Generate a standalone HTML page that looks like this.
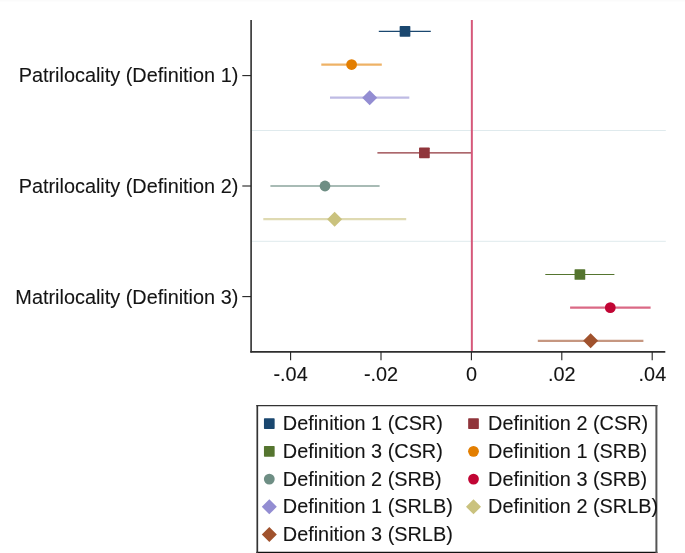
<!DOCTYPE html>
<html><head><meta charset="utf-8"><title>coefplot</title>
<style>
html,body{margin:0;padding:0;background:#fff;}
svg{display:block;}
text{font-family:"Liberation Sans",Arial,sans-serif;fill:#141414;stroke:#141414;stroke-width:0.1px;}
</style></head><body>
<svg width="685" height="553" viewBox="0 0 685 553">
<rect width="685" height="553" fill="#fff"/>
<rect width="685" height="1.5" fill="#fbfbfb"/>
<line x1="252" x2="665.8" y1="130.5" y2="130.5" stroke="#dfeaed" stroke-width="1"/>
<line x1="252" x2="665.8" y1="241.3" y2="241.3" stroke="#dfeaed" stroke-width="1"/>
<line x1="378.8" x2="430.8" y1="31.40" y2="31.40" stroke="#1a476f" stroke-width="1.2"/>
<line x1="377.4" x2="472.0" y1="152.85" y2="152.85" stroke="#90353b" stroke-width="1.2"/>
<line x1="545.3" x2="614.4" y1="274.50" y2="274.50" stroke="#55752f" stroke-width="1.2"/>
<line x1="321.3" x2="381.8" y1="64.55" y2="64.55" stroke="#e37e00" stroke-opacity="0.6" stroke-width="2.2"/>
<line x1="270.4" x2="379.6" y1="186.00" y2="186.00" stroke="#6e8e84" stroke-opacity="0.6" stroke-width="2.2"/>
<line x1="570.1" x2="650.6" y1="307.65" y2="307.65" stroke="#c10534" stroke-opacity="0.6" stroke-width="2.2"/>
<line x1="330.0" x2="409.3" y1="97.70" y2="97.70" stroke="#938dd2" stroke-opacity="0.6" stroke-width="2.2"/>
<line x1="263.3" x2="406.2" y1="219.15" y2="219.15" stroke="#cac27e" stroke-opacity="0.6" stroke-width="2.2"/>
<line x1="537.8" x2="643.4" y1="340.80" y2="340.80" stroke="#a0522d" stroke-opacity="0.6" stroke-width="2.2"/>
<line x1="471.85" x2="471.85" y1="19.9" y2="351.5" stroke="#d6587a" stroke-width="2"/>
<rect x="399.65" y="26.05" width="10.7" height="10.7" rx="0.7" fill="#1a476f"/>
<rect x="419.05" y="147.50" width="10.7" height="10.7" rx="0.7" fill="#90353b"/>
<rect x="574.55" y="269.15" width="10.7" height="10.7" rx="0.7" fill="#55752f"/>
<circle cx="351.60" cy="64.55" r="5.4" fill="#e37e00"/>
<circle cx="325.00" cy="186.00" r="5.4" fill="#6e8e84"/>
<circle cx="610.30" cy="307.65" r="5.4" fill="#c10534"/>
<path d="M362.20 97.70L369.70 90.20L377.20 97.70L369.70 105.20Z" fill="#938dd2"/>
<path d="M327.10 219.15L334.60 211.65L342.10 219.15L334.60 226.65Z" fill="#cac27e"/>
<path d="M583.10 340.80L590.60 333.30L598.10 340.80L590.60 348.30Z" fill="#a0522d"/>
<line x1="251.1" x2="251.1" y1="19.9" y2="352.6" stroke="#2e2e2e" stroke-width="1.6"/>
<line x1="250.3" x2="665.3" y1="351.9" y2="351.9" stroke="#2e2e2e" stroke-width="1.6"/>
<line x1="242.3" x2="251" y1="75.60" y2="75.60" stroke="#222" stroke-width="1.1"/>
<text transform="translate(238.30,82.00) scale(1,1)" font-size="19.86" text-anchor="end">Patrilocality (Definition 1)</text>
<line x1="242.3" x2="251" y1="186.00" y2="186.00" stroke="#222" stroke-width="1.1"/>
<text transform="translate(238.30,192.90) scale(1,1)" font-size="19.86" text-anchor="end">Patrilocality (Definition 2)</text>
<line x1="242.3" x2="251" y1="296.60" y2="296.60" stroke="#222" stroke-width="1.1"/>
<text transform="translate(238.30,303.70) scale(1,1)" font-size="19.86" text-anchor="end">Matrilocality (Definition 3)</text>
<line x1="290.60" x2="290.60" y1="351.9" y2="360.3" stroke="#222" stroke-width="1.1"/>
<text transform="translate(290.60,381.40) scale(1,1)" font-size="19.86" text-anchor="middle">-.04</text>
<line x1="381.00" x2="381.00" y1="351.9" y2="360.3" stroke="#222" stroke-width="1.1"/>
<text transform="translate(381.00,381.40) scale(1,1)" font-size="19.86" text-anchor="middle">-.02</text>
<line x1="471.40" x2="471.40" y1="351.9" y2="360.3" stroke="#222" stroke-width="1.1"/>
<text transform="translate(471.40,381.40) scale(1,1)" font-size="19.86" text-anchor="middle">0</text>
<line x1="561.80" x2="561.80" y1="351.9" y2="360.3" stroke="#222" stroke-width="1.1"/>
<text transform="translate(561.80,381.40) scale(1,1)" font-size="19.86" text-anchor="middle">.02</text>
<line x1="652.20" x2="652.20" y1="351.9" y2="360.3" stroke="#222" stroke-width="1.1"/>
<text transform="translate(666.20,381.40) scale(1,1)" font-size="19.86" text-anchor="end">.04</text>
<rect x="257.2" y="405.6" width="399.2" height="146.9" fill="#fff"/>
<line x1="256.4" x2="657.4" y1="405.6" y2="405.6" stroke="#333" stroke-width="1.3"/>
<line x1="256.4" x2="657.4" y1="552.4" y2="552.4" stroke="#111" stroke-width="1.5"/>
<line x1="257.3" x2="257.3" y1="405" y2="553" stroke="#333" stroke-width="1.7"/>
<line x1="656.4" x2="656.4" y1="405" y2="553" stroke="#555" stroke-width="2"/>
<rect x="263.95" y="418.25" width="10.7" height="10.7" rx="0.7" fill="#1a476f"/>
<text transform="translate(282.80,430.00) scale(1,1)" font-size="19.86" text-anchor="start">Definition 1 (CSR)</text>
<rect x="468.15" y="418.25" width="10.7" height="10.7" rx="0.7" fill="#90353b"/>
<text transform="translate(488.10,430.00) scale(1,1)" font-size="19.86" text-anchor="start">Definition 2 (CSR)</text>
<rect x="263.95" y="446.00" width="10.7" height="10.7" rx="0.7" fill="#55752f"/>
<text transform="translate(282.80,457.75) scale(1,1)" font-size="19.86" text-anchor="start">Definition 3 (CSR)</text>
<circle cx="473.50" cy="451.35" r="5.4" fill="#e37e00"/>
<text transform="translate(488.10,457.75) scale(1,1)" font-size="19.86" text-anchor="start">Definition 1 (SRB)</text>
<circle cx="269.30" cy="479.10" r="5.4" fill="#6e8e84"/>
<text transform="translate(282.80,485.50) scale(1,1)" font-size="19.86" text-anchor="start">Definition 2 (SRB)</text>
<circle cx="473.50" cy="479.10" r="5.4" fill="#c10534"/>
<text transform="translate(488.10,485.50) scale(1,1)" font-size="19.86" text-anchor="start">Definition 3 (SRB)</text>
<path d="M261.80 506.85L269.30 499.35L276.80 506.85L269.30 514.35Z" fill="#938dd2"/>
<text transform="translate(282.80,513.25) scale(1,1)" font-size="19.86" text-anchor="start">Definition 1 (SRLB)</text>
<path d="M466.00 506.85L473.50 499.35L481.00 506.85L473.50 514.35Z" fill="#cac27e"/>
<text transform="translate(488.10,513.25) scale(1,1)" font-size="19.86" text-anchor="start">Definition 2 (SRLB)</text>
<path d="M261.80 534.60L269.30 527.10L276.80 534.60L269.30 542.10Z" fill="#a0522d"/>
<text transform="translate(282.80,541.00) scale(1,1)" font-size="19.86" text-anchor="start">Definition 3 (SRLB)</text>
</svg></body></html>
